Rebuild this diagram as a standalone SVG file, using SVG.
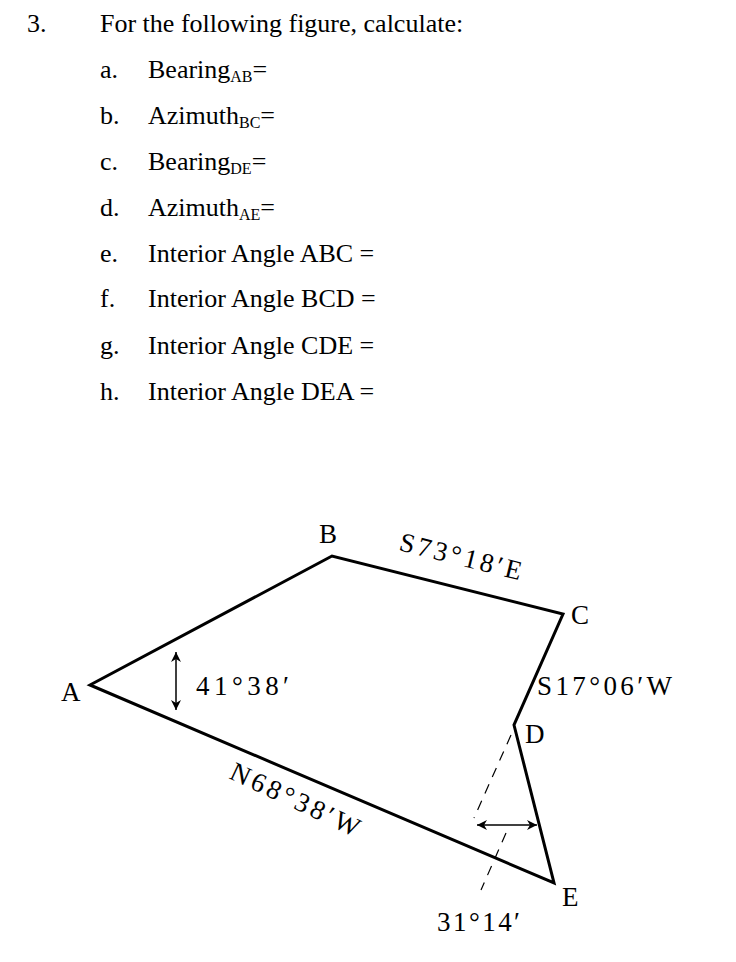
<svg xmlns="http://www.w3.org/2000/svg" width="736" height="962" viewBox="0 0 736 962">
<style>
text{font-family:"Liberation Serif","Times New Roman",serif;fill:#000}
.q{font-size:26px}
.s{font-size:16px}
.l{font-size:27px}
.e{stroke:#000;stroke-width:3;fill:none;stroke-linejoin:miter}
.d{stroke:#000;stroke-width:1.2;stroke-dasharray:10,8;fill:none}
</style>
<defs><marker id="ah" viewBox="0 0 10 10" refX="10" refY="5" markerWidth="14" markerHeight="10" orient="auto-start-reverse" markerUnits="userSpaceOnUse"><path d="M0,0 L10,5 L0,10 L3,5 Z"/></marker></defs>
<rect width="736" height="962" fill="#fff"/>
<g id="question">
<text class="q" x="27" y="32">3.</text>
<text class="q" x="100" y="32">For the following figure, calculate:</text>
<text class="q" x="100" y="78">a.</text><text class="q" x="148" y="78">Bearing<tspan class="s" dy="4">AB</tspan><tspan dy="-4">=</tspan></text>
<text class="q" x="100" y="124">b.</text><text class="q" x="148" y="124">Azimuth<tspan class="s" dy="4">BC</tspan><tspan dy="-4">=</tspan></text>
<text class="q" x="100" y="170">c.</text><text class="q" x="148" y="170">Bearing<tspan class="s" dy="4">DE</tspan><tspan dy="-4">=</tspan></text>
<text class="q" x="100" y="216">d.</text><text class="q" x="148" y="216">Azimuth<tspan class="s" dy="4">AE</tspan><tspan dy="-4">=</tspan></text>
<text class="q" x="100" y="262">e.</text><text class="q" x="148" y="262">Interior Angle ABC =</text>
<text class="q" x="100" y="307">f.</text><text class="q" x="148" y="307">Interior Angle BCD =</text>
<text class="q" x="100" y="354">g.</text><text class="q" x="148" y="354">Interior Angle CDE =</text>
<text class="q" x="100" y="400">h.</text><text class="q" x="148" y="400">Interior Angle DEA =</text>
</g>
<g id="connectors">
<path class="e" d="M90,685 L332,556 L563,614 L514,725 L554,883 Z"/>
<path class="d" d="M511,735 L474,818"/>
<path class="d" d="M506,833 L481,890"/>
<line x1="176" y1="652" x2="176" y2="710" stroke="#000" stroke-width="1.5" marker-start="url(#ah)" marker-end="url(#ah)"/>
<line x1="477" y1="825" x2="537" y2="825" stroke="#000" stroke-width="1.5" marker-start="url(#ah)" marker-end="url(#ah)"/>
</g>
<g id="A"><text class="l" x="61" y="701">A</text></g>
<g id="B"><text class="l" x="319" y="543">B</text></g>
<g id="C"><text class="l" x="571" y="624">C</text></g>
<g id="D"><text class="l" x="525" y="743">D</text></g>
<g id="E"><text class="l" x="562" y="906">E</text></g>
<g id="labels">
<text class="l" x="196" y="695" textLength="93" lengthAdjust="spacing">41°38′</text>
<text class="l" x="537" y="695" textLength="135" lengthAdjust="spacing">S17°06′W</text>
<text class="l" x="437" y="931" textLength="83" lengthAdjust="spacing">31°14′</text>
<text class="l" transform="translate(398,550) rotate(14)" textLength="125" lengthAdjust="spacing">S73°18′E</text>
<text class="l" transform="translate(228,778) rotate(25)" textLength="140" lengthAdjust="spacing">N68°38′W</text>
</g>
</svg>
